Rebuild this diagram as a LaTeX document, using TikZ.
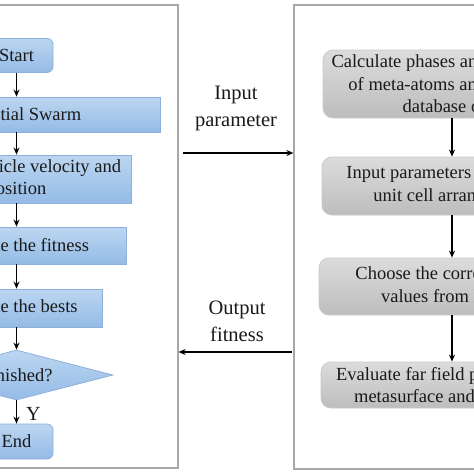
\documentclass[tikz,border=0pt]{standalone}
\usepackage{fontspec}
\setmainfont{Liberation Serif}
\usetikzlibrary{shapes.geometric,arrows.meta}
\definecolor{bluetop}{HTML}{BCD6F1}
\definecolor{bluebot}{HTML}{94BBE6}
\definecolor{blueline}{HTML}{8DB1DB}
\definecolor{graytop}{HTML}{DCDCDC}
\definecolor{graybot}{HTML}{BDBDBD}
\definecolor{grayline}{HTML}{CACACA}
\definecolor{framec}{HTML}{A8A8A8}
\definecolor{txt}{HTML}{1A1A1A}
\begin{document}
\begin{tikzpicture}[x=1pt,y=-1pt,
  boxfont/.style={font=\fontsize{18.5pt}{22.5pt}\selectfont, text=txt},
  bluebox/.style={draw=blueline, line width=0.8pt, top color=bluetop, bottom color=bluebot, inner sep=0pt, align=center, boxfont},
  blueround/.style={bluebox, rounded corners=6pt},
  bluediamond/.style={diamond, aspect=3.86, draw=blueline, line width=0.8pt, top color=bluetop, bottom color=bluebot, inner sep=0pt, boxfont},
  graybox/.style={draw=grayline, line width=0.8pt, top color=graytop, bottom color=graybot, inner sep=0pt, align=center, rounded corners=10pt, boxfont},
  frame/.style={draw=framec, line width=1.2pt, inner sep=0pt},
  midlabel/.style={align=center, inner sep=0pt, text=txt, font=\fontsize{20.5pt}{27pt}\selectfont},
  arrow/.style={-{Stealth[length=7pt,width=6pt]}, line width=1.4pt, black}
]
\useasboundingbox (0,0) rectangle (474,474);
\fill[white] (0,0) rectangle (474,474);
\clip (0,0) rectangle (474,474);

% frames
\node[frame, minimum width=190pt, minimum height=463pt] (lf) at (83,236.5) {};
\node[frame, minimum width=210pt, minimum height=464pt] (rf) at (399,237) {};

% left column
\node[blueround, minimum width=73pt, minimum height=34pt] (start) at (16.5,55.5) {Start};
\node[bluebox, minimum width=287pt, minimum height=35pt] (init) at (16.5,114.5) {Set Initial Swarm};
\node[bluebox, minimum width=229pt, minimum height=48pt] (upd) at (16.5,179) {Update particle velocity and\\position};
\node[bluebox, minimum width=219pt, minimum height=37pt] (eval) at (16.5,245.5) {Evaluate the fitness};
\node[bluebox, minimum width=171pt, minimum height=38pt] (best) at (16.5,308) {Update the bests};
\node[bluediamond, minimum width=193pt, minimum height=50pt] (dec) at (16.5,375) {Finished?};
\node[blueround, minimum width=73pt, minimum height=35pt] (end) at (16.5,441.5) {End};

\draw[arrow] (start) -- (init);
\draw[arrow] (init) -- (upd);
\draw[arrow] (upd) -- (eval);
\draw[arrow] (eval) -- (best);
\draw[arrow] (best) -- (dec);
\draw[arrow] (dec) -- node[right, font=\fontsize{20pt}{22pt}\selectfont, text=txt, inner sep=0pt, xshift=9pt, yshift=-2pt] {Y} (end);

% right column
\node[graybox, minimum width=258pt, minimum height=68pt] (b1) at (452,84) {Calculate phases and amplitudes\\of meta-atoms and establish\\database of it};
\node[graybox, minimum width=260pt, minimum height=58pt] (b2) at (452,186) {Input parameters to generate\\unit cell arrangement};
\node[graybox, minimum width=266pt, minimum height=57pt] (b3) at (452,286.5) {Choose the corresponding\\values from library};
\node[graybox, minimum width=262pt, minimum height=46pt] (b4) at (452,385) {Evaluate far field pattern of the\\metasurface and its fitness};

\draw[arrow] (b1) -- (b2);
\draw[arrow] (b2) -- (b3);
\draw[arrow] (b3) -- (b4);

% middle
\node[midlabel] (inlab) at (236,108) {Input\\parameter};
\node[midlabel] (outlab) at (237,321) {Output\\fitness};
\coordinate (ia) at (183,153);
\coordinate (ob) at (292,352);
\draw[arrow] (ia) -- (rf.west |- ia);
\draw[arrow] (ob) -- (lf.east |- ob);
\end{tikzpicture}
\end{document}
